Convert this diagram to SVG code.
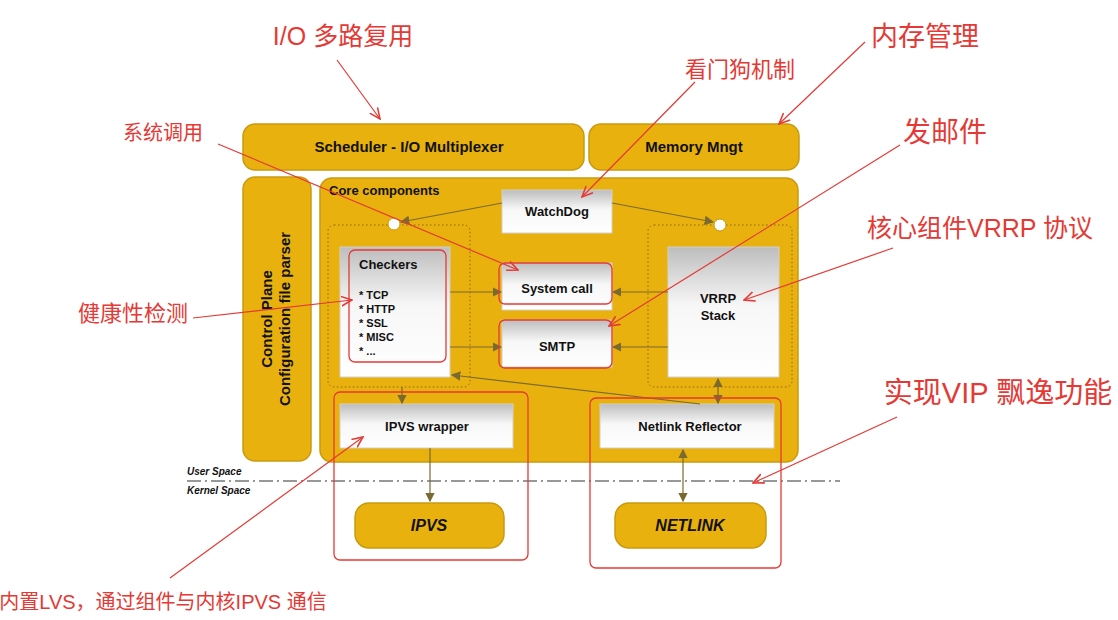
<svg xmlns="http://www.w3.org/2000/svg" width="1118" height="620" viewBox="0 0 1118 620">
<defs>
<linearGradient id="g" x1="0" y1="0" x2="0" y2="1"><stop offset="0" stop-color="#bdbdbd"/><stop offset="0.45" stop-color="#f7f7f7"/><stop offset="1" stop-color="#ffffff"/></linearGradient>
<marker id="a" markerWidth="8" markerHeight="8" refX="7" refY="4" orient="auto"><path d="M0,0 L8,4 L0,8 z" fill="#7a6a30"/></marker>
<marker id="as" markerWidth="8" markerHeight="8" refX="1" refY="4" orient="auto"><path d="M8,0 L0,4 L8,8 z" fill="#7a6a30"/></marker>
<marker id="r" markerWidth="10" markerHeight="10" refX="9" refY="5" orient="auto"><path d="M0,1 L9,5 L0,9" fill="none" stroke="#e53935" stroke-width="1.3"/></marker>
</defs>
<style>
.y{fill:#e8b10e;stroke:#c99a10;stroke-width:1.5}
.w{fill:url(#g);stroke:#d0d0d0}
.t{font-family:"Liberation Sans",Arial,sans-serif;font-weight:bold;fill:#111}
.rb{fill:none;stroke:#e53935;stroke-width:1.3}
.rl{stroke:#e53935;stroke-width:1.2;fill:none;marker-end:url(#r)}
.c{stroke:#7a6a30;stroke-width:1.2;fill:none}
.dot{fill:none;stroke:#8a6a10;stroke-dasharray:1.5,2.5}
.cn{font-family:"Liberation Sans","Noto Sans CJK SC",sans-serif;fill:#e53935}
</style>
<rect width="1118" height="620" fill="#fff"/>
<g id="scheduler"><rect class="y" x="243" y="124" width="341" height="46" rx="12"/><text class="t" x="409" y="152" text-anchor="middle" font-size="15">Scheduler - I/O Multiplexer</text></g>
<g id="memory"><rect class="y" x="589" y="124" width="210" height="46" rx="12"/><text class="t" x="694" y="152" text-anchor="middle" font-size="15">Memory Mngt</text></g>
<g id="control"><rect class="y" x="243" y="177" width="68" height="284" rx="12"/><text class="t" transform="translate(272,319) rotate(-90)" text-anchor="middle" font-size="15">Control Plane</text><text class="t" transform="translate(290,319) rotate(-90)" text-anchor="middle" font-size="15">Configuration file parser</text></g>
<g id="core"><rect class="y" x="320" y="178" width="478" height="284" rx="12"/><text class="t" x="329" y="195" font-size="13">Core components</text></g>
<rect class="dot" x="328" y="225" width="142" height="162" rx="6"/>
<rect class="dot" x="648" y="225" width="144" height="162" rx="6"/>
<g id="watchdog"><rect class="w" x="502" y="190" width="110" height="43"/><text class="t" x="557" y="216" text-anchor="middle" font-size="13">WatchDog</text></g>
<g id="checkers"><rect class="w" x="340" y="247" width="110" height="130"/><text class="t" x="359" y="269" font-size="13">Checkers</text>
<text class="t" x="359" y="299" font-size="11">* TCP</text><text class="t" x="359" y="313" font-size="11">* HTTP</text><text class="t" x="359" y="327" font-size="11">* SSL</text><text class="t" x="359" y="341" font-size="11">* MISC</text><text class="t" x="359" y="355" font-size="11">* ...</text></g>
<g id="syscall"><rect class="w" x="502" y="263" width="110" height="47"/><text class="t" x="557" y="293" text-anchor="middle" font-size="13">System call</text></g>
<g id="smtp"><rect class="w" x="502" y="320" width="110" height="47"/><text class="t" x="557" y="351" text-anchor="middle" font-size="13">SMTP</text></g>
<g id="vrrp"><rect class="w" x="668" y="247" width="111" height="130"/><text class="t" x="718" y="303" text-anchor="middle" font-size="13">VRRP</text><text class="t" x="718" y="320" text-anchor="middle" font-size="13">Stack</text></g>
<g id="ipvswrapper"><rect class="w" x="340" y="404" width="173" height="44"/><text class="t" x="427" y="431" text-anchor="middle" font-size="13">IPVS wrapper</text></g>
<g id="netlinkref"><rect class="w" x="600" y="404" width="174" height="44"/><text class="t" x="690" y="431" text-anchor="middle" font-size="13">Netlink Reflector</text></g>
<g id="ipvs"><rect class="y" x="355" y="503" width="149" height="45" rx="14"/><text class="t" x="429" y="531" text-anchor="middle" font-style="italic" font-size="16">IPVS</text></g>
<g id="netlink"><rect class="y" x="615" y="503" width="151" height="45" rx="14"/><text class="t" x="690" y="531" text-anchor="middle" font-style="italic" font-size="16">NETLINK</text></g>
<text class="t" x="187" y="475" font-size="10" font-style="italic">User Space</text>
<text class="t" x="187" y="494" font-size="10" font-style="italic">Kernel Space</text>
<line x1="187" y1="481" x2="840" y2="481" stroke="#777" stroke-width="1.5" stroke-dasharray="14,4,2,4"/>
<g id="connectors">
<circle cx="394" cy="224" r="6" fill="#fff" stroke="#c99a10"/>
<circle cx="720" cy="225" r="6" fill="#fff" stroke="#c99a10"/>
<line class="c" x1="502" y1="203" x2="401" y2="222" marker-end="url(#a)"/>
<line class="c" x1="612" y1="203" x2="713" y2="222" marker-end="url(#a)"/>
<line class="c" x1="450" y1="292" x2="501" y2="292" marker-end="url(#a)"/>
<line class="c" x1="450" y1="347" x2="501" y2="347" marker-end="url(#a)"/>
<line class="c" x1="668" y1="292" x2="613" y2="292" marker-end="url(#a)"/>
<line class="c" x1="668" y1="347" x2="613" y2="347" marker-end="url(#a)"/>
<line class="c" x1="402" y1="387" x2="402" y2="403" marker-end="url(#a)"/>
<line class="c" x1="700" y1="404" x2="452" y2="375" marker-end="url(#a)"/>
<line class="c" x1="718" y1="379" x2="718" y2="403" marker-start="url(#as)" marker-end="url(#a)"/>
<line class="c" x1="430" y1="448" x2="430" y2="501" marker-end="url(#a)"/>
<line class="c" x1="683" y1="450" x2="683" y2="501" marker-start="url(#as)" marker-end="url(#a)"/>
</g>
<g id="annotations">
<rect class="rb" x="349" y="250" width="97" height="112" rx="6"/>
<rect class="rb" x="499" y="263" width="113" height="41" rx="6"/>
<rect class="rb" x="499" y="320" width="113" height="48" rx="6"/>
<rect class="rb" x="334" y="392" width="194" height="168" rx="6"/>
<rect class="rb" x="590" y="398" width="191" height="170" rx="6"/>
<text class="cn" x="343" y="45" font-size="25" text-anchor="middle">I/O 多路复用</text>
<line class="rl" x1="337" y1="60" x2="380" y2="119"/>
<text class="cn" x="925" y="46" font-size="27" text-anchor="middle">内存管理</text>
<line class="rl" x1="865" y1="42" x2="779" y2="124"/>
<text class="cn" x="740" y="77" font-size="22" text-anchor="middle">看门狗机制</text>
<line class="rl" x1="695" y1="82" x2="582" y2="197"/>
<text class="cn" x="163" y="140" font-size="20" text-anchor="middle">系统调用</text>
<line class="rl" x1="218" y1="144" x2="518" y2="270"/>
<text class="cn" x="945" y="142" font-size="28" text-anchor="middle">发邮件</text>
<line class="rl" x1="900" y1="145" x2="609" y2="326"/>
<text class="cn" x="980" y="237" font-size="25" text-anchor="middle">核心组件VRRP 协议</text>
<line class="rl" x1="893" y1="248" x2="744" y2="300"/>
<text class="cn" x="133" y="321" font-size="22" text-anchor="middle">健康性检测</text>
<line class="rl" x1="193" y1="318" x2="352" y2="300"/>
<text class="cn" x="998" y="403" font-size="29" text-anchor="middle">实现VIP 飘逸功能</text>
<line class="rl" x1="897" y1="417" x2="753" y2="483"/>
<text class="cn" x="163" y="609" font-size="20" text-anchor="middle">内置LVS，通过组件与内核IPVS 通信</text>
<line class="rl" x1="170" y1="578" x2="363" y2="437"/>
</g>
</svg>
